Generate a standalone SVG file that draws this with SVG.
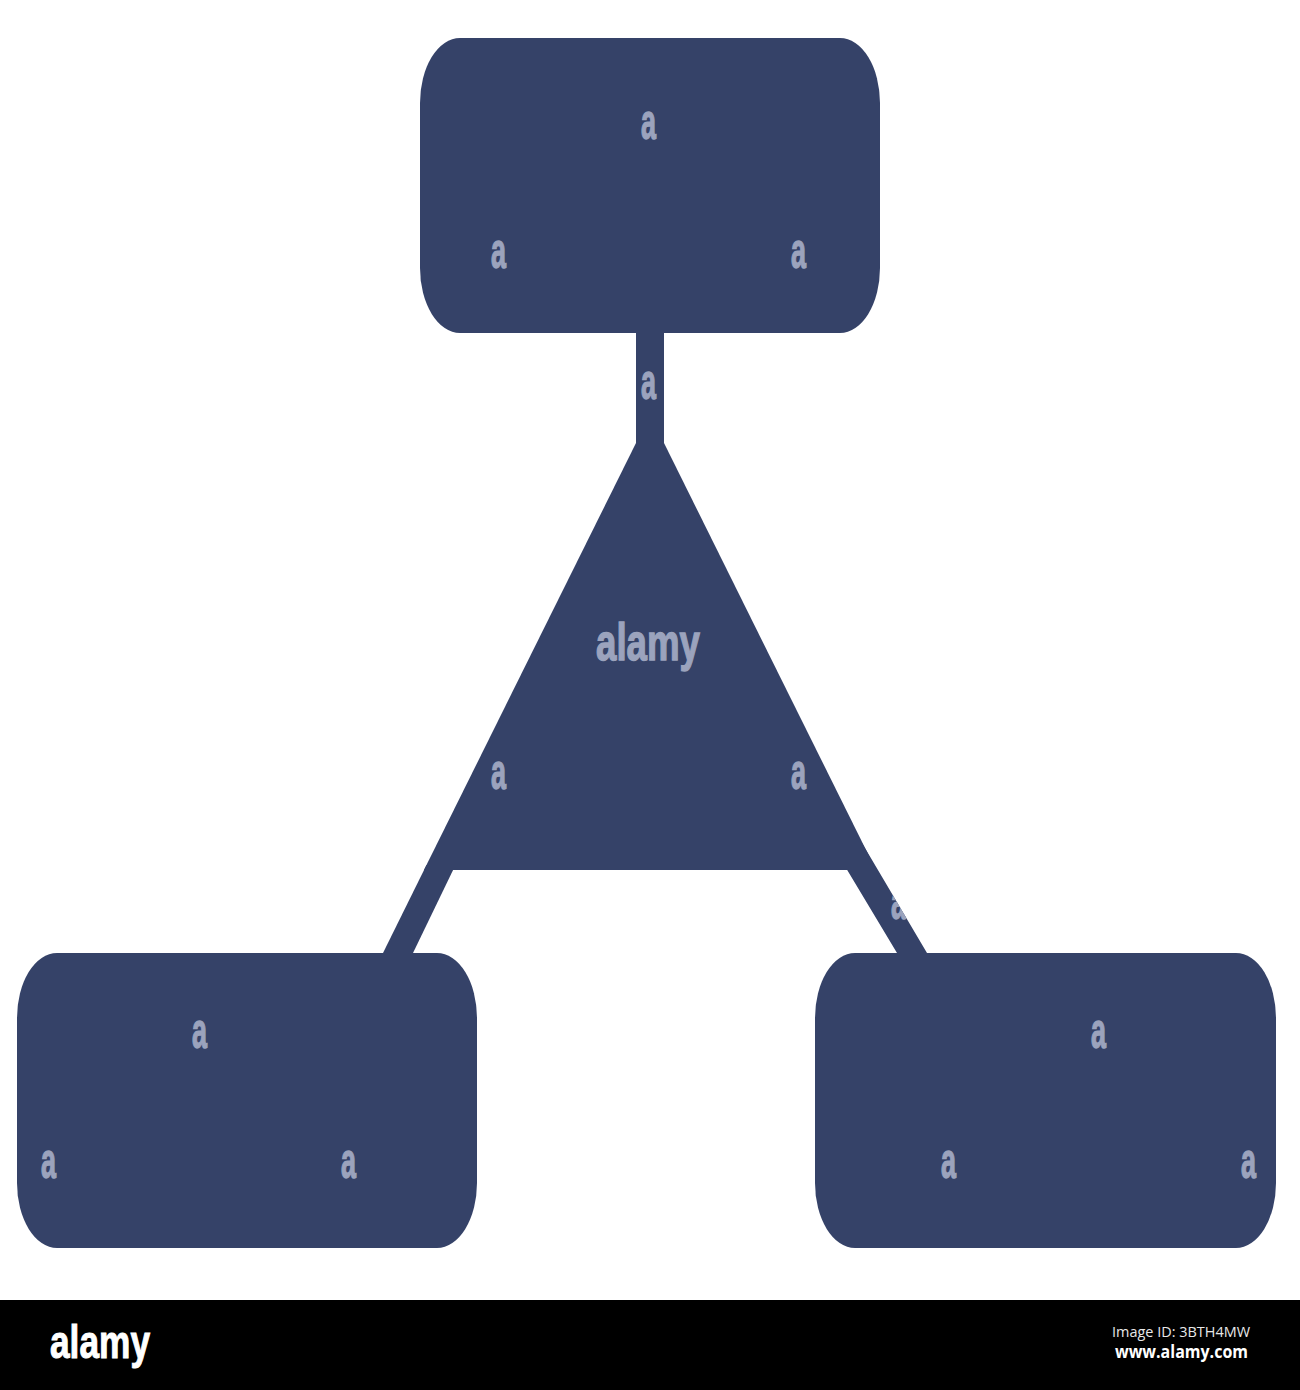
<svg xmlns="http://www.w3.org/2000/svg" width="1300" height="1390" viewBox="0 0 1300 1390">
  <style>
    .shape { fill: #354268; }
    .wm { fill: #9ba3bd; stroke: #9ba3bd; stroke-width: 1.4; font-family: "Liberation Sans", Arial, sans-serif; font-weight: bold; font-size: 50px; }
    .wmword { fill: #9ba3bd; stroke: #9ba3bd; stroke-width: 1.4; font-family: "Liberation Sans", Arial, sans-serif; font-weight: bold; font-size: 52px; }
    .logo { fill: #ffffff; stroke: #ffffff; stroke-width: 1; font-family: "Liberation Sans", Arial, sans-serif; font-weight: bold; font-size: 46px; }
    .imgid { fill: #e8e8e8; font-family: "Open Sans", "DejaVu Sans", sans-serif; font-size: 14px; }
    .url { fill: #ffffff; font-family: "Open Sans", "DejaVu Sans", sans-serif; font-weight: bold; font-size: 17px; }
  </style>
  <defs>
    <clipPath id="legClip">
      <polygon points="831,843 862,843 927,953 897,953"/>
      <polygon points="636,443 664,443 876,870 424,870"/>
    </clipPath>
  </defs>
  <rect x="0" y="0" width="1300" height="1390" fill="#ffffff"/>

  <g id="connectors">
    <rect class="shape" x="636" y="330" width="28" height="118"/>
    <polygon class="shape" points="426.5,865 455.5,865 413,953 383,956 383,953"/>
    <polygon class="shape" points="831,843 862,843 927,953 927,956 897,956 897,953"/>
  </g>

  <g id="node-top">
    <rect class="shape" x="420" y="38" width="460" height="295" rx="40" ry="65"/>
  </g>

  <g id="node-center">
    <polygon class="shape" points="636,443 664,443 876,870 424,870"/>
  </g>

  <g id="node-left">
    <rect class="shape" x="17" y="953" width="460" height="295" rx="40" ry="65"/>
  </g>

  <g id="node-right">
    <rect class="shape" x="815" y="953" width="461" height="295" rx="40" ry="65"/>
  </g>

  <g id="watermark">
    <text class="wm" x="641" y="139" textLength="15" lengthAdjust="spacingAndGlyphs">a</text>
    <text class="wm" x="491" y="268" textLength="15" lengthAdjust="spacingAndGlyphs">a</text>
    <text class="wm" x="791" y="268" textLength="15" lengthAdjust="spacingAndGlyphs">a</text>
    <text class="wm" x="641" y="399" textLength="15" lengthAdjust="spacingAndGlyphs">a</text>
    <text class="wmword" x="596" y="660" textLength="104" lengthAdjust="spacingAndGlyphs">alamy</text>
    <text class="wm" x="491" y="789" textLength="15" lengthAdjust="spacingAndGlyphs">a</text>
    <text class="wm" x="791" y="789" textLength="15" lengthAdjust="spacingAndGlyphs">a</text>
    <text class="wm" x="891" y="919" textLength="15" lengthAdjust="spacingAndGlyphs" clip-path="url(#legClip)">a</text>
    <text class="wm" x="192" y="1048" textLength="15" lengthAdjust="spacingAndGlyphs">a</text>
    <text class="wm" x="41" y="1178" textLength="15" lengthAdjust="spacingAndGlyphs">a</text>
    <text class="wm" x="341" y="1178" textLength="15" lengthAdjust="spacingAndGlyphs">a</text>
    <text class="wm" x="1091" y="1048" textLength="15" lengthAdjust="spacingAndGlyphs">a</text>
    <text class="wm" x="941" y="1178" textLength="15" lengthAdjust="spacingAndGlyphs">a</text>
    <text class="wm" x="1241" y="1178" textLength="15" lengthAdjust="spacingAndGlyphs">a</text>
  </g>

  <g id="footer">
    <rect x="0" y="1300" width="1300" height="90" fill="#000000"/>
    <text class="logo" x="50" y="1358" textLength="100" lengthAdjust="spacingAndGlyphs">alamy</text>
    <text class="imgid" x="1112" y="1337" textLength="138" lengthAdjust="spacingAndGlyphs">Image ID: 3BTH4MW</text>
    <text class="url" x="1115" y="1358" textLength="133" lengthAdjust="spacingAndGlyphs">www.alamy.com</text>
  </g>
</svg>
